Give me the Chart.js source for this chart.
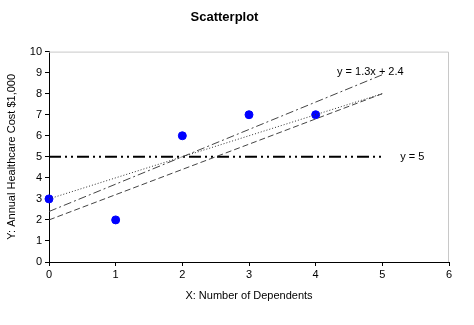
<!DOCTYPE html>
<html lang="en">
<head>
  <meta charset="UTF-8">
  <title>Scatterplot</title>
  <script src="https://cdn.jsdelivr.net/npm/chart.js"></script>
  <style>
    body { margin: 0; background: #fff; }
    #wrap { width: 474px; height: 325px; }
  </style>
</head>
<body>
  <div id="wrap"><canvas id="c"></canvas></div>
  <script>
    // observed points
    const xs = [0, 1, 2, 3, 4];
    const ys = [3, 2, 6, 7, 7];
    // reference lines, endpoints at x = 0 and x = 5
    const lineX = [0, 5];
    const fitY = [2.4, 8.9];      // y = 1.3x + 2.4
    const dashY = [2, 8];
    const dotY = [3, 8];
    const flatY = [5, 5];         // y = 5
    const xTicks = [0, 1, 2, 3, 4, 5, 6];
    const yTicks = [0, 1, 2, 3, 4, 5, 6, 7, 8, 9, 10];

    const font = 'Arial, "Liberation Sans", sans-serif';
    const pts = (xv, yv) => xv.map((x, i) => ({ x: x, y: yv[i] }));

    const lineSet = (yv, dash, color, width) => ({
      type: 'line', data: pts(lineX, yv), borderColor: color, borderWidth: width,
      borderDash: dash, pointRadius: 0, fill: false, showLine: true
    });

    // frame on top/right plus the two equation labels
    const extras = {
      id: 'extras',
      beforeDatasetsDraw(chart) {
        const { ctx, chartArea: a } = chart;
        ctx.save();
        ctx.strokeStyle = '#c8c8c8';
        ctx.lineWidth = 1;
        ctx.beginPath();
        ctx.moveTo(a.left, a.top + 0.5);
        ctx.lineTo(a.right - 0.5, a.top + 0.5);
        ctx.lineTo(a.right - 0.5, a.bottom);
        ctx.stroke();
        ctx.restore();
      },
      afterDatasetsDraw(chart) {
        const { ctx, scales: { x, y } } = chart;
        ctx.save();
        ctx.fillStyle = '#000';
        ctx.font = '11px ' + font;
        ctx.textAlign = 'center';
        ctx.textBaseline = 'middle';
        ctx.fillText('y = 1.3x + 2.4', x.getPixelForValue(4.82), y.getPixelForValue(9.05));
        ctx.fillText('y = 5', x.getPixelForValue(5.45), y.getPixelForValue(5));
        ctx.restore();
      }
    };

    new Chart(document.getElementById('c'), {
      type: 'scatter',
      data: {
        datasets: [
          lineSet(dotY, [1, 2], '#333', 1),
          lineSet(dashY, [6, 3], '#444', 1),
          lineSet(fitY, [8, 3, 2, 3], '#444', 1),
          lineSet(flatY, [12, 4, 2, 4, 2, 4], '#000', 2),
          {
            data: pts(xs, ys), backgroundColor: '#0000ff', borderColor: '#0000ff',
            pointRadius: 4, clip: false
          }
        ]
      },
      options: {
        responsive: true,
        maintainAspectRatio: false,
        animation: false,
        layout: { padding: { left: 0, right: 25, bottom: 19 } },
        plugins: {
          legend: { display: false },
          tooltip: { enabled: false },
          title: {
            display: true, text: 'Scatterplot', color: '#000',
            font: { family: font, size: 13, weight: 'bold' },
            padding: { top: 10, bottom: 26 }
          }
        },
        scales: {
          x: {
            type: 'linear', min: 0, max: 6,
            afterBuildTicks: s => { s.ticks = xTicks.map(v => ({ value: v })); },
            afterFit: s => { s.height = 44; },
            ticks: { color: '#000', font: { family: font, size: 11 }, padding: 2 },
            grid: { display: true, drawOnChartArea: false, tickLength: 4, color: '#000' },
            border: { color: '#000', width: 1 },
            title: {
              display: true, text: 'X: Number of Dependents', color: '#000',
              font: { family: font, size: 11 }, padding: { top: 4, bottom: 3 }
            }
          },
          y: {
            type: 'linear', min: 0, max: 10,
            afterBuildTicks: s => { s.ticks = yTicks.map(v => ({ value: v })); },
            afterFit: s => { s.width = 49; },
            ticks: { color: '#000', font: { family: font, size: 11 }, padding: 3 },
            grid: { display: true, drawOnChartArea: false, tickLength: 4, color: '#000' },
            border: { color: '#000', width: 1 },
            title: {
              display: true, text: 'Y: Annual Healthcare Cost $1,000', color: '#000',
              font: { family: font, size: 11 }, padding: { top: 5, bottom: 0 }
            }
          }
        }
      },
      plugins: [extras]
    });
  </script>
</body>
</html>
